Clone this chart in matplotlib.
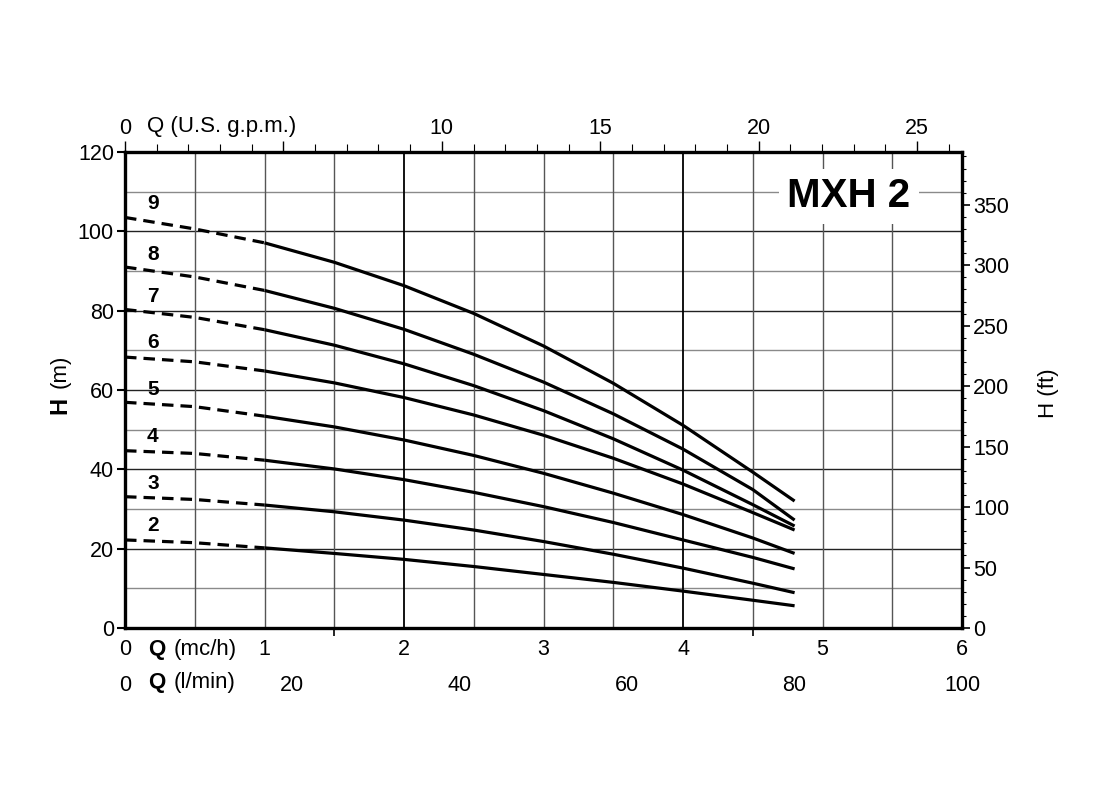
import numpy as np
import matplotlib
matplotlib.use("Agg")
import matplotlib.pyplot as plt

plt.rcParams['font.family'] = ['Liberation Sans', 'DejaVu Sans']

# flow (m3/h) and head (m), one list per pump size
q = [0, 0.5, 1, 1.5, 2, 2.5, 3, 3.5, 4, 4.5, 4.8]
h9 = [103.5, 100.6, 97.1, 92.2, 86.3, 79.3, 71.1, 61.7, 51.1, 39.3, 32.0]
h8 = [91.0, 88.5, 85.1, 80.6, 75.3, 69.0, 62.0, 54.0, 45.1, 34.9, 27.2]
h7 = [80.3, 78.3, 75.2, 71.3, 66.6, 61.1, 54.8, 47.7, 39.8, 31.1, 25.7]
h6 = [68.3, 67.1, 64.8, 61.8, 58.1, 53.7, 48.6, 42.8, 36.3, 29.1, 24.7]
h5 = [56.9, 55.8, 53.4, 50.7, 47.4, 43.5, 39.0, 34.0, 28.6, 22.7, 18.8]
h4 = [44.7, 44.0, 42.3, 40.1, 37.4, 34.2, 30.6, 26.6, 22.2, 17.8, 14.9]
h3 = [33.1, 32.4, 31.0, 29.3, 27.2, 24.7, 21.8, 18.6, 15.1, 11.3, 8.9]
h2 = [22.2, 21.5, 20.2, 18.8, 17.3, 15.5, 13.5, 11.5, 9.3, 7.0, 5.6]
curves = {'9': h9, '8': h8, '7': h7, '6': h6, '5': h5, '4': h4, '3': h3, '2': h2}
# where the number labels sit (head, m)
label_h = {'9': 107, '8': 94.2, '7': 83.6, '6': 72, '5': 60.2, '4': 48.2, '3': 36.4, '2': 25.8}

gpm_ticks = [0, 5, 10, 15, 20, 25]
gpm_labels = ['0', '', '10', '15', '20', '25']
lmin_ticks = [0, 20, 40, 60, 80, 100]
lmin_labels = ['0', '20', '40', '60', '80', '100']
ft_ticks = [0, 50, 100, 150, 200, 250, 300, 350]

fs = 15.5
fig = plt.figure(figsize=(11, 8), dpi=100)
ax = fig.add_axes([125/1100, 1-628/800, (962-125)/1100, (628-152)/800])
ax.set_xlim(0, 6)
ax.set_ylim(0, 120)

# grid
for y in np.arange(10, 120, 10):
    major = (y % 20 == 0)
    ax.axhline(y, color='#222222' if major else '#8a8a8a', lw=1.0, zorder=1)
for x in np.arange(0.5, 6, 0.5):
    if x in (2, 4):
        ax.axvline(x, color='black', lw=1.3, zorder=1)
    else:
        ax.axvline(x, color='#555555', lw=1.0, zorder=1)

for name, h in curves.items():
    ax.plot(q[:3], h[:3], color='black', lw=2.3, ls=(0, (3.6, 2.2)),
            solid_capstyle='butt', dash_capstyle='butt', zorder=3)
    ax.plot(q[2:], h[2:], color='black', lw=2.3, solid_capstyle='butt',
            solid_joinstyle='round', zorder=3)
    ax.text(0.2, label_h[name], name, fontsize=15, fontweight='bold',
            ha='center', va='center', zorder=4)

ax.text(0.865, 0.907, 'MXH 2', transform=ax.transAxes, fontsize=29,
        fontweight='bold', ha='center', va='center', zorder=5,
        bbox=dict(facecolor='white', edgecolor='none', pad=6))

for s in ax.spines.values():
    s.set_linewidth(2.4)
    s.set_zorder(6)

# main axes ticks
ax.set_yticks([0, 20, 40, 60, 80, 100, 120])
ax.tick_params(axis='y', direction='out', length=6, width=1.5, labelsize=fs, pad=2)
ax.set_xticks([0, 1, 2, 3, 4, 5, 6])
ax.set_xticklabels(['0', '1', '2', '3', '4', '5', '6'])
ax.tick_params(axis='x', which='major', length=0, labelsize=fs, pad=8)
ax.set_xticks([0, 1.5, 3, 4.5, 6], minor=True)
ax.tick_params(axis='x', which='minor', direction='out', length=6, width=1.2)
ax.set_yticks([], minor=True)

# top axis: US gpm
top = ax.secondary_xaxis('top', functions=(lambda x: x * 4.40287, lambda g: g / 4.40287))
top.set_xticks(gpm_ticks)
top.set_xticklabels(gpm_labels)
top.set_xticks(np.arange(0, 27, 1), minor=True)
top.tick_params(which='major', direction='out', length=8, width=1, labelsize=fs, pad=1)
top.tick_params(which='minor', direction='out', length=6, width=0.8)
top.spines['top'].set_visible(False)

# bottom second row: l/min
low = ax.secondary_xaxis(-0.095, functions=(lambda x: x * 1000 / 60, lambda l: l * 60 / 1000))
low.set_xticks(lmin_ticks)
low.set_xticklabels(lmin_labels)
low.tick_params(length=0, labelsize=fs, pad=1)
low.spines['bottom'].set_visible(False)

# right axis: feet
right = ax.secondary_yaxis('right', functions=(lambda m: m / 0.3048, lambda f: f * 0.3048))
right.set_yticks(ft_ticks)
right.set_yticks(np.arange(0, 400, 10), minor=True)
right.tick_params(which='major', direction='out', length=6, width=1.2, labelsize=fs, pad=2)
right.tick_params(which='minor', direction='out', length=3, width=0.8)
right.spines['right'].set_visible(False)

# axis captions
ax.text(0.026, 1.053, 'Q (U.S. g.p.m.)', transform=ax.transAxes, fontsize=16,
        ha='left', va='center')
ax.text(0.038, -0.045, 'Q', transform=ax.transAxes, fontsize=16, fontweight='bold',
        ha='center', va='center')
ax.text(0.058, -0.045, '(mc/h)', transform=ax.transAxes, fontsize=16,
        ha='left', va='center')
ax.text(0.038, -0.114, 'Q', transform=ax.transAxes, fontsize=16, fontweight='bold',
        ha='center', va='center')
ax.text(0.058, -0.114, '(l/min)', transform=ax.transAxes, fontsize=16,
        ha='left', va='center')
ax.text(-0.078, 0.468, 'H', transform=ax.transAxes, fontsize=17, fontweight='bold',
        rotation=90, ha='center', va='center')
ax.text(-0.078, 0.54, '(m)', transform=ax.transAxes, fontsize=16,
        rotation=90, ha='center', va='center')
ax.text(1.103, 0.494, 'H (ft)', transform=ax.transAxes, fontsize=16,
        rotation=90, ha='center', va='center')

fig.savefig('out.png', dpi=100, facecolor='white')
